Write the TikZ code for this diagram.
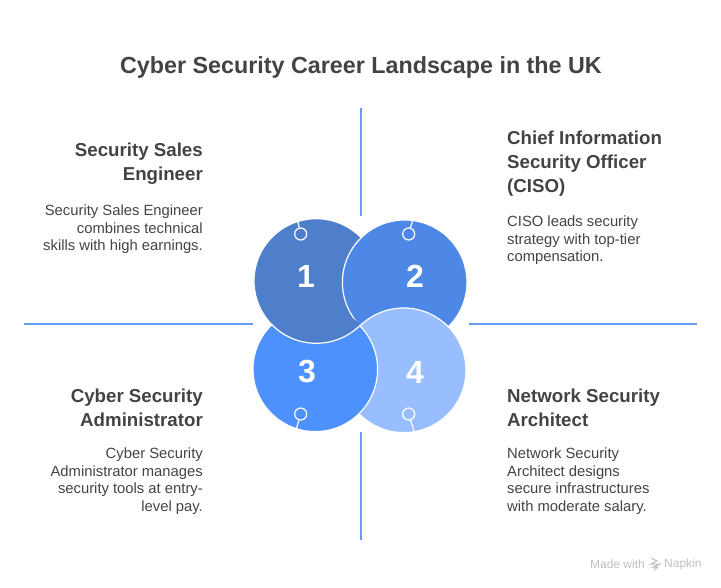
\documentclass[tikz,border=0pt]{standalone}
\usepackage{fontspec}
\setmainfont{Liberation Sans}
\usetikzlibrary{positioning}
\definecolor{colone}{HTML}{4F7FCB}
\definecolor{coltwo}{HTML}{4D88E6}
\definecolor{colthree}{HTML}{4D91FF}
\definecolor{colfour}{HTML}{99BEFF}
\definecolor{colline}{HTML}{659CF4}
\definecolor{coltext}{HTML}{434343}
\tikzset{
  disc/.style = {circle, draw = white, line width = 1.2pt, minimum size = 124.6pt, inner sep = 0pt},
  pin/.style = {circle, draw = white, line width = 1.2pt, minimum size = 12pt, inner sep = 0pt},
  pinline/.style = {draw = white, line width = 1.2pt},
  divider/.style = {draw = colline, line width = 1.5pt},
  number/.style = {text = white, font = \fontsize{32}{32}\selectfont\bfseries},
  headleft/.style = {anchor = north east, align = right, text = coltext, inner sep = 0pt, font = \fontsize{18.7}{24}\selectfont\bfseries},
  headright/.style = {anchor = north west, align = left, text = coltext, inner sep = 0pt, font = \fontsize{18.7}{24}\selectfont\bfseries},
  bodyleft/.style = {anchor = north east, align = right, text = coltext, inner sep = 0pt, font = \fontsize{14.8}{17.5}\selectfont},
  bodyright/.style = {anchor = north west, align = left, text = coltext, inner sep = 0pt, font = \fontsize{14.8}{17.5}\selectfont},
  mark text/.style = {text = black!25, inner sep = 0pt, font = \fontsize{12}{12}\selectfont}
}
\begin{document}
\begin{tikzpicture}[x = 1pt, y = -1pt]
\useasboundingbox (0,0) rectangle (721,588);
\node[text = coltext, font = \fontsize{23.3}{23.3}\selectfont\bfseries] (title) at (361,67) {Cyber Security Career Landscape in the UK};

% dividers
\coordinate (top a) at (361,108);
\coordinate (top b) at (361,216);
\coordinate (bottom a) at (361,432);
\coordinate (bottom b) at (361,540);
\coordinate (left a) at (24,324);
\coordinate (left b) at (253,324);
\coordinate (right a) at (469,324);
\coordinate (right b) at (697,324);
\draw[divider] (top a) -- (top b);
\draw[divider] (bottom a) -- (bottom b);
\draw[divider] (left a) -- (left b);
\draw[divider] (right a) -- (right b);

% discs, each one over the next
\node[disc, fill = colone] (disc1) at (316.3,281) {};
\node[disc, fill = coltwo] (disc2) at (404.7,282.3) {};
\node[disc, fill = colfour] (disc4) at (403.7,370.3) {};
\node[disc, fill = colthree] (disc3) at (315.3,369.3) {};
\begin{scope}
\clip (315.3,369.3) circle (63.5);
\node[disc, fill = colone] at (316.3,281) {};
\end{scope}

\node[number] (num1) at (306,276) {1};
\node[number] (num2) at (415,276) {2};
\node[number] (num3) at (307,372) {3};
\node[number] (num4) at (415,372) {4};

\node[pin] (pin1) at (300.7,234) {};
\node[pin] (pin2) at (408.7,234) {};
\node[pin] (pin3) at (300.7,414) {};
\node[pin] (pin4) at (408.7,414) {};
\coordinate (rim1) at (297.7,221);
\coordinate (rim2) at (412.7,220);
\coordinate (rim3) at (296,430);
\coordinate (rim4) at (414.3,432);
\draw[pinline] (pin1) -- (rim1);
\draw[pinline] (pin2) -- (rim2);
\draw[pinline] (pin3) -- (rim3);
\draw[pinline] (pin4) -- (rim4);

% texts
\node[headleft] (head1) at (203,143) {Security Sales\\Engineer};
\node[bodyleft] (body1) at (203,205) {Security Sales Engineer\\combines technical\\skills with high earnings.};
\node[headright] (head2) at (507,131) {Chief Information\\Security Officer\\(CISO)};
\node[bodyright] (body2) at (507,216) {CISO leads security\\strategy with top-tier\\compensation.};
\node[headleft] (head3) at (203,389) {Cyber Security\\Administrator};
\node[bodyleft] (body3) at (203,448) {Cyber Security\\Administrator manages\\security tools at entry-\\level pay.};
\node[headright] (head4) at (507,389) {Network Security\\Architect};
\node[bodyright] (body4) at (507,448) {Network Security\\Architect designs\\secure infrastructures\\with moderate salary.};

% footer
\node[mark text, anchor = east] (made) at (645,564) {Made with};
\node[mark text, anchor = west] (napkin) at (664,564) {Napkin};
\draw[black!25, line width = 1pt] (651,558) -- (657,561) -- (651,564) -- (660,564) -- (653,567) -- (658,567) -- (654,570);
\end{tikzpicture}
\end{document}
